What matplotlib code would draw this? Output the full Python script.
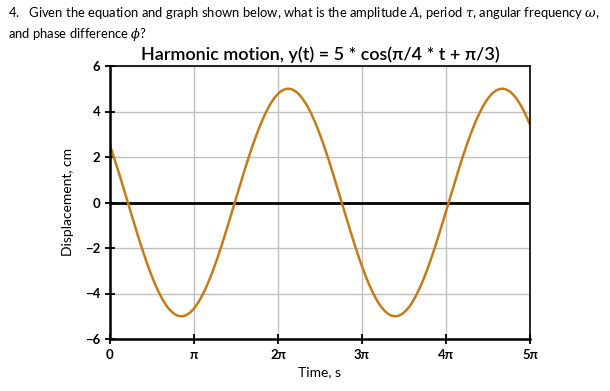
import numpy as np
import matplotlib.pyplot as plt

# equation shown in the title: y(t) = A * cos(omega * t + phi)
amplitude = 5.0
omega = np.pi / 4
phi = np.pi / 3

tick_pos = [0, np.pi, 2 * np.pi, 3 * np.pi, 4 * np.pi, 5 * np.pi]
tick_labels = ["0", "π", "2π", "3π", "4π", "5π"]
y_ticks = [-6, -4, -2, 0, 2, 4, 6]
y_labels = ["\u22126", "\u22124", "\u22122", "0", "2", "4", "6"]

question = ("4.   Given the equation and graph shown below, what is the amplitude $A$, "
            "period $\\tau$, angular frequency $\\omega$,\nand phase difference $\\phi$?")

plt.rcParams['font.family'] = ['Lato', 'DejaVu Sans']
plt.rcParams['mathtext.fontset'] = 'dejavuserif'

t = np.linspace(0, 5 * np.pi, 600)
y = amplitude * np.cos(omega * t + phi)

fig = plt.figure(figsize=(6.1, 3.91), dpi=100)
ax = fig.add_axes([110 / 610, 1 - 339 / 391, 420 / 610, 273 / 391])

ax.grid(True, color="#c0c0c0", linewidth=1)
ax.axhline(0, color="black", linewidth=2)
ax.plot(t, y, color="#c47c1a", linewidth=1.8)

ax.set_xlim(0, 5 * np.pi)
ax.set_ylim(-6, 6)
ax.set_xticks(tick_pos)
ax.set_xticklabels(tick_labels, fontsize=9.5, fontweight="bold")
ax.set_yticks(y_ticks)
ax.set_yticklabels(y_labels, fontsize=9.5, fontweight="bold")
ax.tick_params(direction="inout", length=7, width=1.3, color="black")
for side in ["left", "bottom"]:
    ax.spines[side].set_linewidth(1.8)
for side in ["top", "right"]:
    ax.spines[side].set_linewidth(1.2)

ax.set_xlabel("Time, s", fontsize=10, labelpad=4)
ax.set_ylabel("Displacement, cm", fontsize=10, labelpad=8)
ax.set_title("Harmonic motion, y(t) = 5 * cos(π/4 * t + π/3)", fontsize=13,
             fontweight="semibold", pad=4)

fig.text(8 / 610, 1 - 5 / 391, question, fontsize=9.4, va="top", linespacing=1.45)

fig.savefig("out.png", dpi=100)
